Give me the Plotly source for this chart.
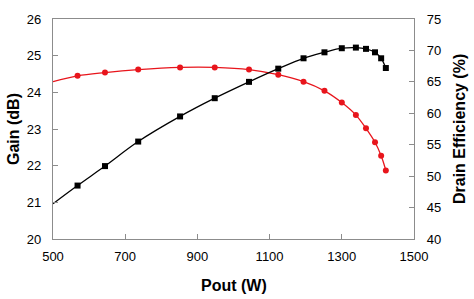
import plotly.graph_objects as go

pout = [568, 644, 736, 852, 948, 1043, 1124, 1194, 1252, 1300, 1339, 1367, 1392, 1409, 1422]
gain = [24.45, 24.54, 24.62, 24.68, 24.68, 24.62, 24.48, 24.29, 24.04, 23.72, 23.38, 23.02, 22.64, 22.27, 21.87]
eff = [48.5, 51.6, 55.5, 59.5, 62.4, 65.0, 67.1, 68.75, 69.7, 70.35, 70.45, 70.25, 69.7, 68.75, 67.2]
# where the fitted curves start at the left edge of the chart
line_start_pout = 500
gain_line_start = 24.29
eff_line_start = 45.6

x_ticks = [500, 700, 900, 1100, 1300, 1500]
gain_ticks = [20, 21, 22, 23, 24, 25, 26]
eff_ticks = [40, 45, 50, 55, 60, 65, 70, 75]

RED = "#e8151c"
AX = "#8c8c8c"
FONT = "Liberation Sans, Arial, sans-serif"
TITLE_SIZE = 16

fig = go.Figure()
fig.add_trace(go.Scatter(x=[line_start_pout] + pout, y=[gain_line_start] + gain, mode="lines",
                         line=dict(color=RED, width=1.3, shape="spline"), showlegend=False, hoverinfo="skip"))
fig.add_trace(go.Scatter(x=pout, y=gain, mode="markers", marker=dict(color=RED, size=6, symbol="circle"),
                         showlegend=False, name="Gain"))
fig.add_trace(go.Scatter(x=[line_start_pout] + pout, y=[eff_line_start] + eff, mode="lines", yaxis="y2",
                         line=dict(color="black", width=1.3, shape="spline"), showlegend=False, hoverinfo="skip"))
fig.add_trace(go.Scatter(x=pout, y=eff, mode="markers", yaxis="y2",
                         marker=dict(color="black", size=6, symbol="square"),
                         showlegend=False, name="Drain Efficiency"))

axis_common = dict(showgrid=False, zeroline=False, showline=True, linecolor=AX, linewidth=1.2,
                   ticks="inside", ticklen=5, tickcolor=AX, tickwidth=1,
                   tickfont=dict(family=FONT, size=13, color="black"))

fig.update_layout(
    width=474, height=299,
    margin=dict(l=53, r=60, t=15, b=60),
    paper_bgcolor="white", plot_bgcolor="white",
    font=dict(family=FONT, color="black"),
    xaxis=dict(range=[500, 1500], tickvals=x_ticks, mirror=True, ticklabelstandoff=5, **axis_common),
    yaxis=dict(range=[20, 26], tickvals=gain_ticks, ticklabelstandoff=8, **axis_common),
    yaxis2=dict(range=[40, 75], tickvals=eff_ticks, overlaying="y", side="right", ticklabelstandoff=9,
                **axis_common),
    annotations=[
        dict(text="<b>Gain (dB)</b>", xref="paper", yref="paper", x=0, y=0.5, xshift=-40,
             textangle=-90, showarrow=False, xanchor="center", yanchor="middle",
             font=dict(family=FONT, size=TITLE_SIZE, color="black")),
        dict(text="<b>Drain Efficiency (%)</b>", xref="paper", yref="paper", x=1, y=0.5, xshift=45,
             textangle=-90, showarrow=False, xanchor="center", yanchor="middle",
             font=dict(family=FONT, size=TITLE_SIZE, color="black")),
        dict(text="<b>Pout (W)</b>", xref="paper", yref="paper", x=0.5, y=0, yshift=-46,
             showarrow=False, xanchor="center", yanchor="middle",
             font=dict(family=FONT, size=TITLE_SIZE, color="black")),
    ],
)

fig.write_html("out.html")
